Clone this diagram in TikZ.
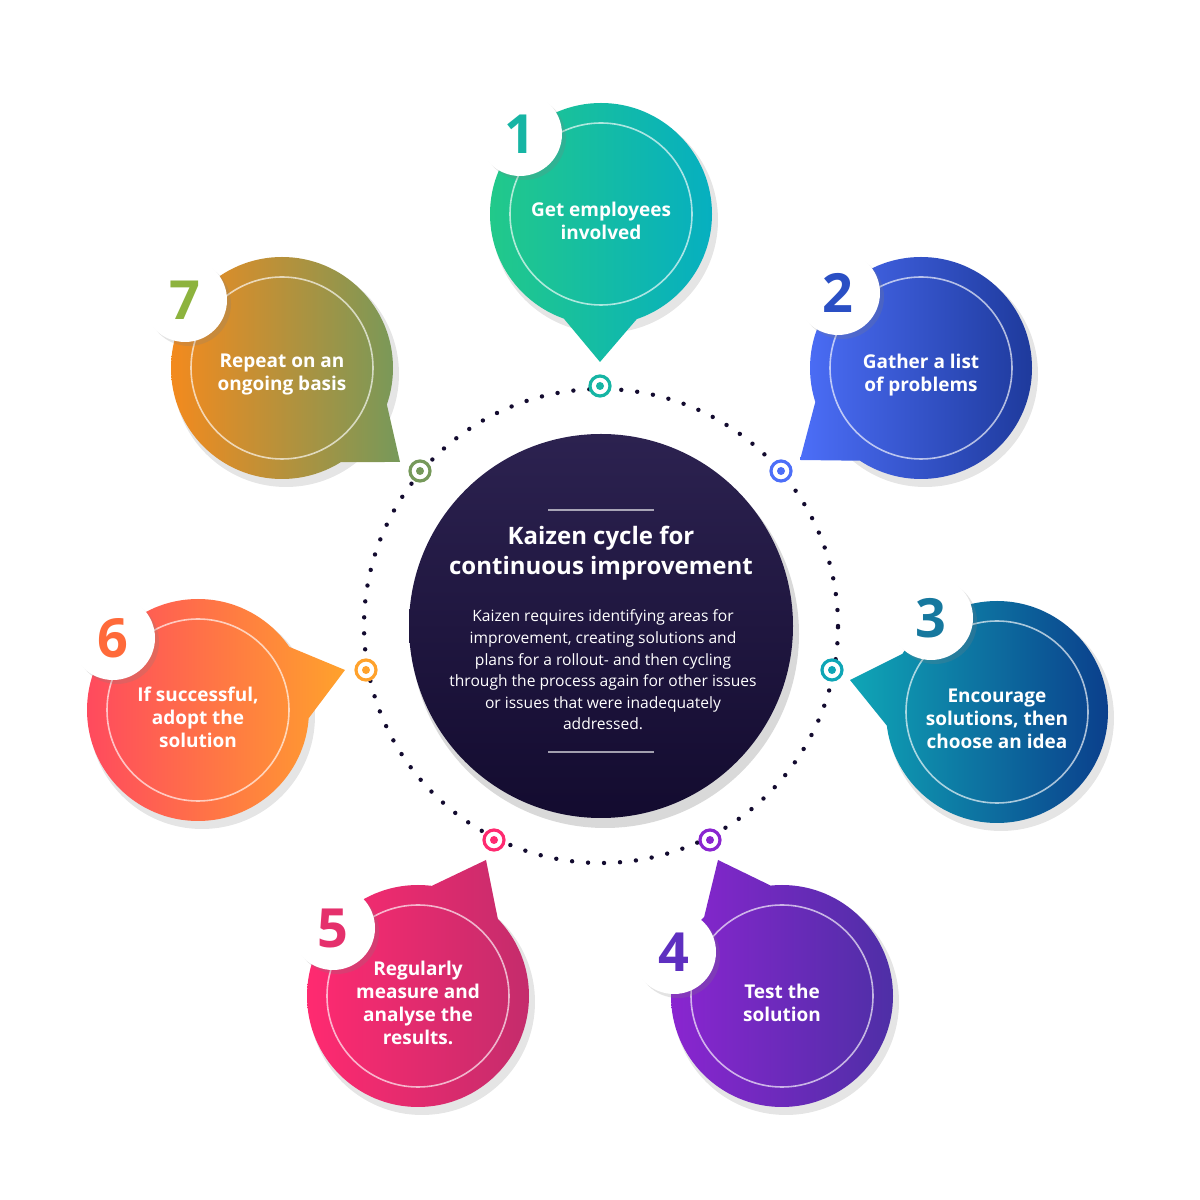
\documentclass[tikz,border=0pt]{standalone}
\usepackage{fontspec}
\setmainfont{Open Sans}
\usetikzlibrary{calc,shadows}
\definecolor{a1}{HTML}{22C98A}\definecolor{a2}{HTML}{06AFC0}
\definecolor{b1}{HTML}{4C6EF8}\definecolor{b2}{HTML}{1E3A9C}
\definecolor{c1}{HTML}{0FA6B6}\definecolor{c2}{HTML}{0B3F8C}
\definecolor{d1}{HTML}{8A25D0}\definecolor{d2}{HTML}{4E2FA6}
\definecolor{e1}{HTML}{FF2A70}\definecolor{e2}{HTML}{C42C6C}
\definecolor{f1}{HTML}{FF4A5E}\definecolor{f2}{HTML}{FFA22C}
\definecolor{g1}{HTML}{F38A1E}\definecolor{g2}{HTML}{76995A}
\definecolor{n1}{HTML}{16B5A4}\definecolor{n2}{HTML}{2A4FC4}\definecolor{n3}{HTML}{16789E}
\definecolor{n4}{HTML}{5E2FC0}\definecolor{n5}{HTML}{E5306C}\definecolor{n6}{HTML}{FF6A3A}
\definecolor{n7}{HTML}{8DB33E}
\definecolor{ctop}{HTML}{2C2250}\definecolor{cbot}{HTML}{130B2F}
\newcommand{\kbub}[9]{%
\coordinate (#1c) at #2; \coordinate (#1t) at #3;
\fill[black,opacity=0.10] ($(#1c)+(4,-6)$) circle (113);
\path[left color=#4,right color=#5] let \p1=($(#1t)-(#1c)$), \n1={atan2(\y1,\x1)} in
  (#1c) circle (111) (#1t) -- ($(#1c)+(\n1+22:108)$) -- ($(#1c)+(\n1-22:108)$) -- cycle;
\draw[white,opacity=0.65,line width=0.8pt] (#1c) circle (91);
\node[txt] (#1x) at ($(#1c)+(0,-7)$) {#9};
\node[badge,text=#8,drop shadow={opacity=0.22,shadow xshift=2pt,shadow yshift=-2pt}] (#1b) at #6 {#7};
}
\begin{document}
\begin{tikzpicture}[x=0.5pt,y=0.5pt,
 txt/.style={text=white,font=\fontsize{9.5}{11.5}\selectfont\bfseries,align=center},
 badge/.style={circle,fill=white,minimum size=42pt,inner sep=0pt,font=\fontsize{27}{27}\selectfont\bfseries},
 mk/.style={circle,fill=white,draw=#1,line width=1.6pt,minimum size=10pt,inner sep=0pt,path picture={\fill[#1] (path picture bounding box.center) circle (2pt);}}]
\useasboundingbox (0,0) rectangle (1200,1200);
\fill[white] (0,0) rectangle (1200,1200);
\draw[line width=2.2pt,dash pattern=on 0pt off 8pt,line cap=round,color=cbot] (601,574) circle (237);
\fill[black,opacity=0.15] (605,566) circle (194);
\shade[top color=ctop,bottom color=cbot] (601,574) circle (192);
\node[text=white,font=\fontsize{12}{15}\selectfont\bfseries,align=center] (title) at (601,647) {Kaizen cycle for\\continuous improvement};
\node[text=white,font=\fontsize{7.8}{10.8}\selectfont,align=center] (body) at (603,530) {Kaizen requires identifying areas for\\improvement, creating solutions and\\plans for a rollout- and then cycling\\through the process again for other issues\\or issues that were inadequately\\addressed.};
\draw[white,opacity=0.6,line width=0.6pt] (548,690) -- (654,690) (548,448) -- (654,448);
\kbub{a}{(601,986)}{(600,838)}{a1}{a2}{(520,1066)}{1}{n1}{Get employees\\involved}
\kbub{b}{(921,832)}{(800,740)}{b1}{b2}{(838,907)}{2}{n2}{Gather a list\\of problems}
\kbub{c}{(997,488)}{(850,520)}{c1}{c2}{(931,582)}{3}{n3}{Encourage\\solutions, then\\choose an idea}
\kbub{d}{(782,204)}{(718,340)}{d1}{d2}{(674,248)}{4}{n4}{Test the\\solution}
\kbub{e}{(418,204)}{(486,340)}{e1}{e2}{(333,272)}{5}{n5}{Regularly\\measure and\\analyse the\\results.}
\kbub{f}{(198,490)}{(345,530)}{f1}{f2}{(113,562)}{6}{n6}{If successful,\\adopt the\\solution}
\kbub{g}{(282,832)}{(400,738)}{g1}{g2}{(185,900)}{7}{n7}{Repeat on an\\ongoing basis}
\node[mk=n1] (m1) at (600,814) {};
\node[mk=b1] (m2) at (781,729) {};
\node[mk=c1] (m3) at (832,530) {};
\node[mk=d1] (m4) at (710,360) {};
\node[mk=e1] (m5) at (494,360) {};
\node[mk=f2] (m6) at (366,530) {};
\node[mk=g2] (m7) at (420,729) {};
\end{tikzpicture}
\end{document}
